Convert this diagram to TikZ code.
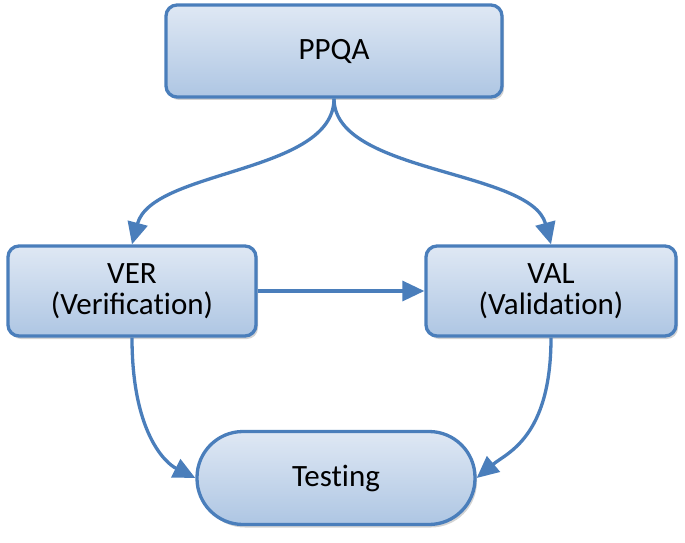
\documentclass[tikz,border=0pt]{standalone}
\usepackage{fontspec}
\setmainfont{Carlito}
\usetikzlibrary{arrows.meta,shadows}

\definecolor{boxline}{HTML}{4A7EBB}
\definecolor{boxtop}{HTML}{DFE8F4}
\definecolor{boxbottom}{HTML}{AEC6E3}

% keep t and i apart (no ligature)
\newcommand{\nolig}{\kern0pt{}}

\begin{document}
\begin{tikzpicture}[x=1pt,y=1pt,
    box/.style={draw=boxline, line width=3.3pt, rounded corners=11pt,
      top color=boxtop, bottom color=boxbottom,
      drop shadow={shadow xshift=2pt, shadow yshift=-3pt, opacity=0.35},
      align=center, font=\fontsize{31}{31}\selectfont},
    link/.style={draw=boxline, line width=3.3pt,
      -{Triangle[length=22pt,width=20pt]}}]

      \useasboundingbox (0,0) rectangle (685,542);

      % Boxes
      \node[box, minimum width=336pt, minimum height=92pt] (ppqa) at (334,491) {PPQA};
      \node[box, minimum width=248pt, minimum height=90pt] (ver) at (132,251) {VER\\(Verificat\nolig ion)};
      \node[box, minimum width=250pt, minimum height=90pt] (val) at (551,251) {VAL\\(Validat\nolig ion)};
      \node[box, rounded corners=46pt, minimum width=278pt, minimum height=93pt] (test) at (336,64) {Test\nolig ing};

      % Links
      \draw[link] (ppqa.south) .. controls +(0,-75) and +(20,75) .. (ver.north);
      \draw[link] (ppqa.south) .. controls +(0,-75) and +(-20,75) .. (val.north);
      \draw[link] (ver.east) -- (val.west);
      \draw[link] (ver.south) .. controls +(0,-95) and +(-30,15) .. (test.west);
      \draw[link] (val.south) .. controls +(0,-100) and +(30,25) .. (test.east);
    \end{tikzpicture}
\end{document}
